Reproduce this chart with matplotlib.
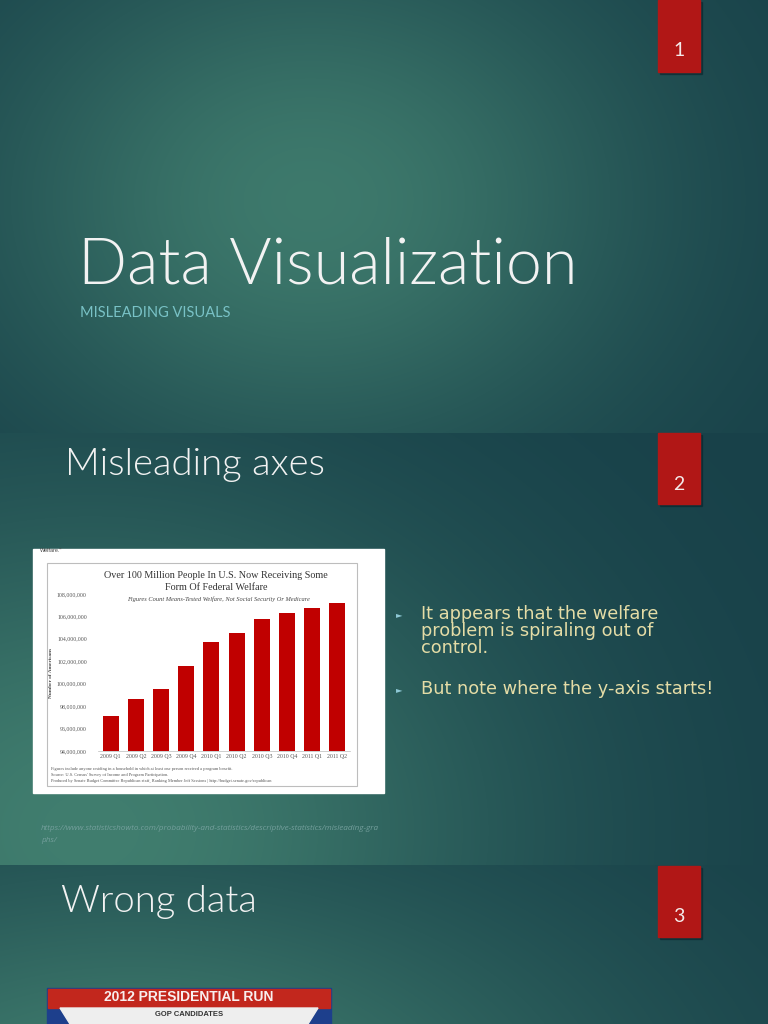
import numpy as np
import matplotlib
matplotlib.use("Agg")
import matplotlib.pyplot as plt
from matplotlib.patches import Rectangle, Polygon
from matplotlib.ticker import FuncFormatter

# data
quarters = ['2009 Q1', '2009 Q2', '2009 Q3', '2009 Q4', '2010 Q1',
            '2010 Q2', '2010 Q3', '2010 Q4', '2011 Q1', '2011 Q2']
recipients = [97.1e6, 98.6e6, 99.55e6, 101.55e6, 103.75e6,
              104.5e6, 105.75e6, 106.3e6, 106.75e6, 107.2e6]
yticks = [94e6, 96e6, 98e6, 100e6, 102e6, 104e6, 106e6, 108e6]

bullets = ["It appears that the welfare\nproblem is spiraling out of\ncontrol.",
           "But note where the y-axis starts!"]
footnotes = ["Figures include anyone residing in a household in which at least one person received a program benefit.",
             "Source: U.S. Census' Survey of Income and Program Participation.",
             "Produced by Senate Budget Committee Republican staff, Ranking Member Jeff Sessions | http://budget.senate.gov/republican"]

W, H = 768, 1024
fig = plt.figure(figsize=(W / 100, H / 100), dpi=100)
bg = fig.add_axes([0, 0, 1, 1])
bg.set_xlim(0, W)
bg.set_ylim(H, 0)
bg.axis('off')

# slide backgrounds: teal radial glow on dark blue-green
dark = np.array([14, 50, 64]) / 255
light = np.array([66, 128, 112]) / 255
yy, xx = np.mgrid[0:H, 0:W].astype(float)
img = np.zeros((H, W, 3))


def glow(cx, cy, sx, sy):
    t = np.exp(-((xx - cx) ** 2 / sx ** 2 + (yy - cy) ** 2 / sy ** 2))
    return t * (1 - 0.25 * xx / W)


slides = [(0, 433, 330, 200, 330, 260),
          (433, 865, 120, 830, 420, 330),
          (865, 1024, 170, 1120, 480, 260)]
for y0, y1, cx, cy, sx, sy in slides:
    t = glow(cx, cy, sx, sy)[y0:y1]
    t = 0.18 + 0.82 * t
    img[y0:y1] = dark + (light - dark) * t[..., None]
bg.imshow(img, extent=[0, W, H, 0], aspect='auto', zorder=0)

# slide number tabs
for n, (top, bot, ty) in enumerate([(0, 72, 50), (433, 504, 485), (866, 937, 916)], 1):
    bg.add_patch(Rectangle((660, top + 2), 42, bot - top, color='#08242c', alpha=0.5, zorder=1))
    bg.add_patch(Rectangle((658, top), 42, bot - top, color='#b11716', zorder=2))
    bg.text(679, ty, str(n), color='#f4eaea', fontsize=14, ha='center', va='center',
            family='Lato', zorder=3)

title_font = dict(family='Lato', fontweight=300, color='#f2f2f2')
bg.text(78, 266, 'Data Visualization', fontsize=46.5, va='center', ha='left', **title_font)
bg.text(80, 313, 'MISLEADING VISUALS', fontsize=10.5, va='center', ha='left',
        family='Lato', color='#79c2c6')
bg.text(65, 465, 'Misleading axes', fontsize=27.5, va='center', ha='left', **title_font)
bg.text(61, 902, 'Wrong data', fontsize=27.5, va='center', ha='left', **title_font)

# bullets
for txt, y in zip(bullets, [615, 690]):
    bg.text(396, y, '\u25ba', fontsize=6, color='#8fc9d6', va='center', family='DejaVu Sans')
    bg.text(421, y - 10, txt, fontsize=12.8, color='#e4dca6', va='top', ha='left',
            family='DejaVu Sans', linespacing=0.93)

bg.text(41, 829, 'https://www.statisticshowto.com/probability-and-statistics/descriptive-statistics/misleading-gra',
        fontsize=5.9, style='italic', color='#749f9c', va='center', family='Open Sans')
bg.text(41, 841, 'phs/', fontsize=5.9, style='italic', color='#749f9c', va='center', family='Open Sans')

# embedded chart picture
bg.add_patch(Rectangle((33, 549), 351, 244, color='white', zorder=4))
bg.add_patch(Rectangle((47, 563), 310, 223, fill=False, ec='#bdbdbd', lw=0.8, zorder=5))
bg.text(40, 551, 'Welfare."', fontsize=4, color='#444444', va='center', family='Liberation Sans', zorder=5)
bg.text(216, 576, 'Over 100 Million People In U.S. Now Receiving Some', fontsize=7.3,
        ha='center', va='center', family='Liberation Serif', color='#333333', zorder=6)
bg.text(216, 588, 'Form Of Federal Welfare', fontsize=7.3,
        ha='center', va='center', family='Liberation Serif', color='#333333', zorder=6)
bg.text(218, 599, 'Figures Count Means-Tested Welfare, Not Social Security Or Medicare', fontsize=4.6,
        ha='center', va='center', family='Liberation Serif', style='italic', color='#444444', zorder=6)
for line, y in zip(footnotes, [769, 775, 781]):
    bg.text(51, y, line, fontsize=3.2, va='center', family='Liberation Serif', color='#555555', zorder=6)

ax = fig.add_axes([98 / W, 1 - 751 / H, (350 - 98) / W, (751 - 594) / H])
ax.set_zorder(5)
ax.patch.set_alpha(0)
x = np.arange(len(quarters))
ax.bar(x, recipients, width=0.64, color='#c00000')
ax.set_ylim(94e6, 108e6)
ax.set_xlim(-0.5, len(quarters) - 0.5)
ax.set_yticks(yticks)
ax.yaxis.set_major_formatter(FuncFormatter(lambda v, p: f'{int(v):,}'))
ax.set_xticks(x)
ax.set_xticklabels(quarters)
ax.tick_params(length=0, labelsize=4.2, labelcolor='#555555', pad=2)
ax.tick_params(axis='y', pad=8)
for lab in ax.get_xticklabels() + ax.get_yticklabels():
    lab.set_family('Liberation Serif')
for s in ['top', 'right', 'left']:
    ax.spines[s].set_visible(False)
ax.spines['bottom'].set_color('#bbbbbb')
ax.spines['bottom'].set_linewidth(0.5)
ax.set_ylabel('Number of Americans', fontsize=3.8, family='Liberation Serif',
              fontweight='bold', color='#444444', labelpad=3)

# news banner at bottom
bg.add_patch(Rectangle((47, 988), 284, 40, color='#1d3f8c', zorder=4))
bg.add_patch(Rectangle((48, 989), 282, 19, color='#c2271d', zorder=5))
bg.add_patch(Polygon([(60, 1008), (318, 1008), (308, 1024), (70, 1024)], color='#eeeeee', zorder=5))
bg.text(189, 997, '2012 PRESIDENTIAL RUN', fontsize=10, fontweight='bold', color='#f8eeee',
        ha='center', va='center', family='Liberation Sans', zorder=6)
bg.text(189, 1014, 'GOP CANDIDATES', fontsize=5.5, fontweight='bold', color='#333333',
        ha='center', va='center', family='Liberation Sans', zorder=6)

fig.savefig('out.png', dpi=100)
